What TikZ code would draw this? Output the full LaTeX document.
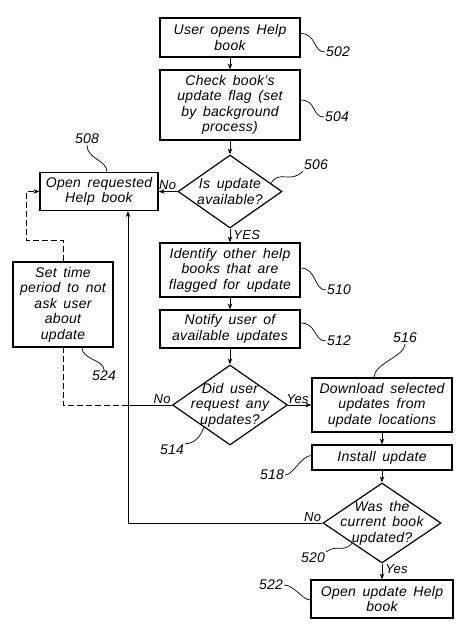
\documentclass[tikz,border=0pt]{standalone}
\usepackage{fontspec}
\setmainfont{Liberation Sans}[LetterSpace=2,WordSpace=1.6]
\usetikzlibrary{calc,shapes,arrows.meta,positioning}
\tikzset{
     flow text/.style={font=\itshape\fontsize{14}{15.5}\selectfont},
      stepbox/.style   = {draw, rectangle, line width=1.2pt, align=center, minimum width=140pt, inner sep=1pt, flow text},
      decision/.style  = {draw, diamond, line width=1.2pt, inner sep=0pt},
      qtext/.style     = {align=center, inner sep=0pt, flow text},
      flowedge/.style  = {black, line width=0.8pt, ->, >={Stealth[length=6pt,width=4.5pt]}},
      flowline/.style  = {black, line width=0.8pt},
      optline/.style   = {black, line width=0.8pt, dash pattern=on 6pt off 3pt},
      optedge/.style   = {optline, ->, >={Stealth[length=6pt,width=4.5pt]}},
      refline/.style   = {black, line width=0.7pt},
      refnum/.style    = {flow text, inner sep=1pt},
      answer/.style    = {font=\itshape\fontsize{13}{15}\selectfont, inner sep=1pt},
    }

\begin{document}
\begin{tikzpicture}[x=1pt,y=-1pt,node distance=60pt,on grid]
        \useasboundingbox (0,0) rectangle (474,641);

        % main column
        \node [stepbox, minimum height=39pt] (n502) at (230,37.5) {User opens Help\\book};
        \node [stepbox, minimum height=70pt] (n504) [below=67.5pt of n502] {Check book's\\update flag (set\\by background\\process)};
        \node [decision, minimum width=104pt, minimum height=73pt,
               label={[qtext]center:Is update\\available?}] (n506) [below=86.5pt of n504] {};
        \node [stepbox, minimum height=54pt] (n510) [below=78.5pt of n506] {Identify other help\\books that are\\flagged for update};
        \node [stepbox, minimum height=38pt] (n512) [below=59pt of n510] {Notify user of\\available updates};
        \node [decision, minimum width=115pt, minimum height=80pt,
               label={[qtext]center:Did user\\request any\\updates?}] (n514) [below=76pt of n512] {};

        % right column
        \node [stepbox, minimum height=54pt] (n516) [right=152pt of n514] {Download selected\\updates from\\update locations};
        \node [stepbox, minimum height=25pt] (n518) [below=52.5pt of n516] {Install update};
        \node [decision, minimum width=118pt, minimum height=80pt,
               label={[qtext]center:Was the\\current book\\updated?}] (n520) [below=65.5pt of n518] {};
        \node [stepbox, minimum width=142pt, minimum height=38pt] (n522) [below=76pt of n520] {Open update Help\\book};

        % left column
        \node [stepbox, minimum width=118pt, minimum height=38pt] (n508) [left=131pt of n506] {Open requested\\Help book};
        \node [stepbox, minimum width=100pt, minimum height=85pt] (n524) at (63,304.5) {Set time\\period to not\\ask user\\about\\update};

        \coordinate (back) at (128,523);
        \coordinate (cross) at (128,405);

        % reference numerals
        \node [refnum] (r502) at (338,52)  {502};
        \node [refnum] (r504) at (337,117) {504};
        \node [refnum] (r506) at (316,165) {506};
        \node [refnum] (r508) at (87,139)  {508};
        \node [refnum] (r510) at (339,290) {510};
        \node [refnum] (r512) at (339,341) {512};
        \node [refnum] (r514) at (172,450) {514};
        \node [refnum] (r516) at (405,338) {516};
        \node [refnum] (r518) at (272,475) {518};
        \node [refnum] (r520) at (313,558) {520};
        \node [refnum] (r522) at (271,585) {522};
        \node [refnum] (r524) at (104,376) {524};

        % flow
        \draw [flowedge] (n502) -- (n504);
        \draw [flowedge] (n504) -- (n506);
        \draw [flowedge] (n506) -- node [answer, at start, above left] {No} (n508);
        \draw [flowedge] (n506) -- node [answer, at start, below right, xshift=2pt] {YES} (n510);
        \draw [flowedge] (n510) -- (n512);
        \draw [flowedge] (n512) -- (n514);
        \draw [flowedge] (n514) -- node [answer, at start, above right, xshift=-3pt] {Yes} (n516);
        \draw [flowedge] (n516) -- (n518);
        \draw [flowedge] (n518) -- (n520);
        \draw [flowedge] (n520) -- node [answer, at start, below right, xshift=2pt] {Yes} (n522);
        \draw [flowedge] (n520.west) -- node [answer, at start, above left] {No} (back) -- (back |- n508.south);
        \draw [flowline] (n514.west) -- node [answer, at start, above left] {No} (cross);
        \draw [optline] (cross) -| (n524.south);
        \draw [optedge] (n524.north) -- ++(0,-21) -| ([xshift=-13pt]n508.west) -- (n508.west);

        % leaders
        \draw [refline] ([yshift=4pt]n502.east) .. controls +(16,0) and +(-12,0) .. (r502.west);
        \draw [refline] ([yshift=5pt]n504.east) .. controls +(16,0) and +(-12,0) .. (r504.west);
        \draw [refline] ($(n506.north)!0.78!(n506.east)$) .. controls +(8,-14) and +(-12,13) .. (r506.south west);
        \draw [refline] (r508.south) .. controls +(0,14) and +(0,-12) .. ([xshift=8pt]n508.north);
        \draw [refline] ([yshift=2pt]n510.east) .. controls +(16,0) and +(-12,0) .. (r510.west);
        \draw [refline] ([yshift=6pt]n512.east) .. controls +(16,0) and +(-12,0) .. (r512.west);
        \draw [refline] ($(n514.south)!0.45!(n514.west)$) .. controls +(-4,10) and +(10,-1) .. (r514.north east);
        \draw [refline] ([xshift=-8pt]n516.north) .. controls +(0,-14) and +(0,12) .. (r516.south);
        \draw [refline] ([yshift=2pt]n518.west) .. controls +(-10,0) and +(8,0) .. (r518.east);
        \draw [refline] ($(n520.south)!0.5!(n520.west)$) .. controls +(-10,10) and +(11,-8) .. (r520.north east);
        \draw [refline] (r522.east) .. controls +(10,0) and +(-8,0) .. ([yshift=-1pt]n522.west);
        \draw [refline] ([xshift=19pt]n524.south) .. controls +(0,12) and +(0,-10) .. (r524.north);
\end{tikzpicture}
\end{document}
